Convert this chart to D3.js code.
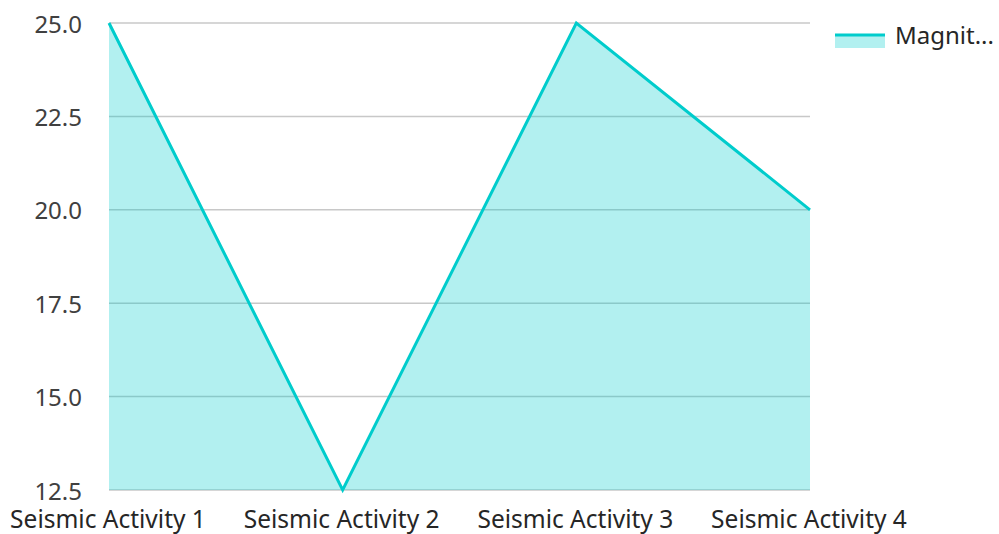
<!DOCTYPE html>
<html><head><meta charset="utf-8">
<script src="https://cdn.jsdelivr.net/npm/d3@7"></script>
<style>body{margin:0;background:#fff;}svg{display:block;font-family:"Noto Sans",sans-serif;}</style>
</head><body>
<svg id="c" width="999" height="534"></svg>
<script>
const categories = ["Seismic Activity 1","Seismic Activity 2","Seismic Activity 3","Seismic Activity 4"];
const magnitude = [25, 12.5, 25, 20];
const yTicks = [12.5, 15, 17.5, 20, 22.5, 25];
const seriesName = "Magnitude";
const legendLabel = "Magnit...";

(function(){
const svg = d3.select("#c");
const mLeft = 109, mRight = 810, mTop = 23, mBottom = 490;
const x = d3.scalePoint().domain(categories).range([mLeft, mRight]);
const y = d3.scaleLinear().domain([12.5, 25]).range([mBottom, mTop]);

// gridlines
svg.append("g").selectAll("line").data(yTicks).join("line")
  .attr("x1", mLeft).attr("x2", mRight)
  .attr("y1", d => y(d)).attr("y2", d => y(d))
  .attr("stroke", "#c8c8c8").attr("stroke-width", 1.5);

// y labels
svg.append("g").selectAll("text").data(yTicks).join("text")
  .attr("x", 82).attr("y", d => y(d)).attr("dy", "0.4em")
  .attr("text-anchor", "end").attr("font-size", 24).attr("fill", "#404040")
  .text(d => d.toFixed(1));

// x labels
svg.append("g").selectAll("text").data(categories).join("text")
  .attr("x", d => x(d) - 1).attr("y", 528)
  .attr("text-anchor", "middle").attr("font-size", 24.5).attr("fill", "#262626")
  .text(d => d);

const pts = categories.map((c, i) => [c, magnitude[i]]);
svg.append("path").datum(pts)
  .attr("d", d3.area().x(d => x(d[0])).y0(mBottom).y1(d => y(d[1])))
  .attr("fill", "rgba(0,204,204,0.3)");
svg.append("path").datum(pts)
  .attr("d", d3.line().x(d => x(d[0])).y(d => y(d[1])))
  .attr("fill", "none").attr("stroke", "#00cccc").attr("stroke-width", 3);

// legend
const lg = svg.append("g");
lg.append("rect").attr("x", 835).attr("y", 34).attr("width", 50).attr("height", 14).attr("fill", "rgba(0,204,204,0.3)");
lg.append("line").attr("x1", 835).attr("x2", 885).attr("y1", 35).attr("y2", 35).attr("stroke", "#00cccc").attr("stroke-width", 3);
lg.append("text").attr("x", 895).attr("y", 44).attr("font-size", 24).attr("fill", "#262626").text(legendLabel)
  .append("title").text(seriesName);
})();
</script>
</body></html>
